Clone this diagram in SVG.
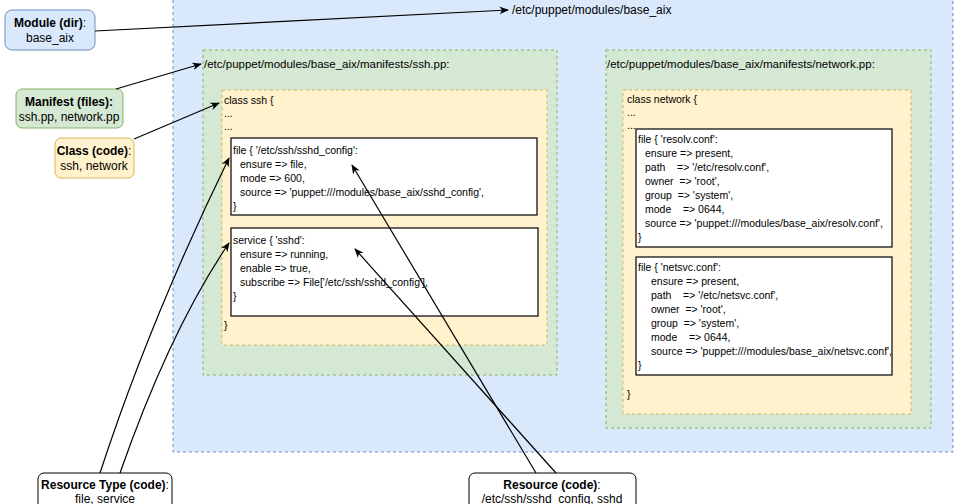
<svg xmlns="http://www.w3.org/2000/svg" width="961" height="504" viewBox="0 0 961 504">
<style>
text{font-family:"Liberation Sans",Arial,sans-serif;font-size:10.5px;fill:#000;white-space:pre}
.lbl{font-size:12px;text-anchor:middle}
.b{font-weight:bold}
.cont{stroke-dasharray:3 3;stroke-width:1}
.code{fill:#fff;stroke:#000;stroke-width:1.2}
.c{fill:none;stroke:#000;stroke-width:1.2}
</style>
<defs><marker id="a" viewBox="0 0 10 10" refX="9" refY="5" markerWidth="8" markerHeight="8" orient="auto"><path d="M0,1 L10,5 L0,9 L3,5 z" fill="#000"/></marker></defs>
<rect width="961" height="504" fill="#fff"/>
<g id="module-container">
<rect class="cont" x="173" y="-5" width="780" height="457" fill="#dae8fc" stroke="#6c8ebf"/>
<text x="512" y="14" style="font-size:12px">/etc/puppet/modules/base_aix</text>
</g>
<g id="ssh-manifest">
<rect class="cont" x="203" y="50" width="354" height="325" fill="#d5e8d4" stroke="#82b366"/>
<text x="204" y="68" style="font-size:11.5px">/etc/puppet/modules/base_aix/manifests/ssh.pp:</text>
</g>
<g id="ssh-class">
<rect class="cont" x="222" y="90" width="325" height="255" fill="#fff2cc" stroke="#d6b656"/>
<text x="224" y="104">class ssh {</text><text x="224" y="117">...</text><text x="224" y="130">...</text>
<text x="224" y="329">}</text>
</g>
<g id="ssh-file">
<rect class="code" x="231" y="138" width="306" height="77"/>
<text x="233" y="154">file { '/etc/ssh/sshd_config':</text>
<text x="240" y="168">ensure =&gt; file,</text>
<text x="240" y="182">mode =&gt; 600,</text>
<text x="240" y="196">source =&gt; 'puppet:///modules/base_aix/sshd_config',</text>
<text x="233" y="210">}</text>
</g>
<g id="ssh-service">
<rect class="code" x="231" y="228" width="307" height="88"/>
<text x="233" y="244">service { 'sshd':</text>
<text x="240" y="258">ensure =&gt; running,</text>
<text x="240" y="272">enable =&gt; true,</text>
<text x="240" y="286">subscribe =&gt; File['/etc/ssh/sshd_config'],</text>
<text x="233" y="300">}</text>
</g>
<g id="network-manifest">
<rect class="cont" x="606" y="50" width="325" height="378" fill="#d5e8d4" stroke="#82b366"/>
<text x="607" y="68" style="font-size:11.5px">/etc/puppet/modules/base_aix/manifests/network.pp:</text>
</g>
<g id="network-class">
<rect class="cont" x="623" y="90" width="288" height="324" fill="#fff2cc" stroke="#d6b656"/>
<text x="627" y="103">class network {</text><text x="627" y="116">...</text><text x="627" y="129">...</text>
<text x="627" y="398">}</text>
</g>
<g id="resolv-file">
<rect class="code" x="636" y="129" width="256" height="118"/>
<text x="638" y="143">file { 'resolv.conf':</text>
<text x="645" y="157">ensure =&gt; present,</text>
<text x="645" y="171">path    =&gt; '/etc/resolv.conf',</text>
<text x="645" y="185">owner  =&gt; 'root',</text>
<text x="645" y="199">group  =&gt; 'system',</text>
<text x="645" y="213">mode    =&gt; 0644,</text>
<text x="645" y="227">source =&gt; 'puppet:///modules/base_aix/resolv.conf',</text>
<text x="638" y="241">}</text>
</g>
<g id="netsvc-file">
<rect class="code" x="636" y="257" width="256" height="118"/>
<text x="638" y="271">file { 'netsvc.conf':</text>
<text x="651" y="285">ensure =&gt; present,</text>
<text x="651" y="299">path    =&gt; '/etc/netsvc.conf',</text>
<text x="651" y="313">owner  =&gt; 'root',</text>
<text x="651" y="327">group  =&gt; 'system',</text>
<text x="651" y="341">mode    =&gt; 0644,</text>
<text x="651" y="355">source =&gt; 'puppet:///modules/base_aix/netsvc.conf',</text>
<text x="638" y="369">}</text>
</g>
<g id="module-label">
<rect x="5" y="10" width="90" height="40" rx="7" fill="#dae8fc" stroke="#6c8ebf"/>
<text class="lbl" x="50" y="27"><tspan class="b">Module (dir)</tspan>:</text>
<text class="lbl" x="50" y="42">base_aix</text>
</g>
<g id="manifest-label">
<rect x="16" y="89" width="107" height="39" rx="6" fill="#d5e8d4" stroke="#82b366"/>
<text class="lbl b" x="69" y="106">Manifest (files):</text>
<text class="lbl" x="69" y="121">ssh.pp, network.pp</text>
</g>
<g id="class-label">
<rect x="55" y="138" width="79" height="40" rx="6" fill="#fff2cc" stroke="#d6b656"/>
<text class="lbl" x="94" y="155"><tspan class="b">Class (code)</tspan>:</text>
<text class="lbl" x="94" y="170">ssh, network</text>
</g>
<g id="resource-type-label">
<rect x="38" y="473" width="134" height="40" rx="6" fill="#fff" stroke="#000"/>
<text class="lbl" x="105" y="489"><tspan class="b">Resource Type (code)</tspan>:</text>
<text class="lbl" x="105" y="503">file, service</text>
</g>
<g id="resource-label">
<rect x="469" y="473" width="167" height="40" rx="6" fill="#fff" stroke="#000"/>
<text class="lbl" x="552" y="489"><tspan class="b">Resource (code)</tspan>:</text>
<text class="lbl" x="552" y="503">/etc/ssh/sshd_config, sshd</text>
</g>
<g id="connectors">
<path class="c" marker-end="url(#a)" d="M95,31 L508,10"/>
<path class="c" marker-end="url(#a)" d="M116,89 L201,64"/>
<path class="c" marker-end="url(#a)" d="M134,139 L219,103"/>
<path class="c" marker-end="url(#a)" d="M100,473 Q150,320 229,158"/>
<path class="c" marker-end="url(#a)" d="M120,473 Q170,330 229,243"/>
<path class="c" marker-end="url(#a)" d="M536,473 L352,165"/>
<path class="c" marker-end="url(#a)" d="M556,473 L355,249"/>
</g>
</svg>
